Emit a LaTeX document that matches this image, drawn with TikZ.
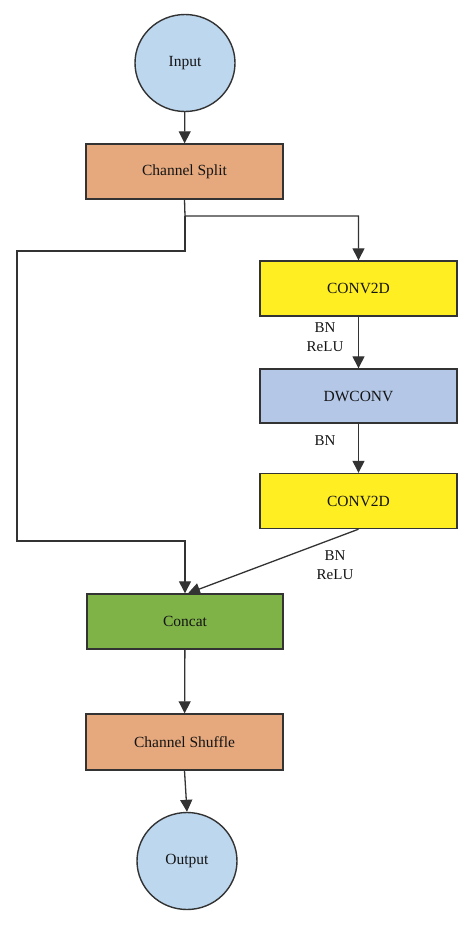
\documentclass[tikz,border=0pt]{standalone}
\usepackage{fontspec}
\setmainfont{Liberation Serif}
\usetikzlibrary{arrows.meta,shapes.geometric}
\definecolor{cblue}{HTML}{BDD7EE}
\definecolor{corange}{HTML}{E6A97E}
\definecolor{cyellow}{HTML}{FFEE22}
\definecolor{cdw}{HTML}{B4C7E7}
\definecolor{cgreen}{HTML}{7FB347}
\definecolor{cline}{HTML}{333333}
\tikzset{
  blk/.style={draw=cline,line width=1.4pt,minimum width=197pt,minimum height=55pt,inner sep=0pt,font=\fontsize{15.5}{17}\selectfont,text=black!92},
  circ/.style={draw=cline,line width=1.4pt,ellipse,minimum width=100pt,minimum height=97pt,fill=cblue,inner sep=0pt,font=\fontsize{15.5}{17}\selectfont,text=black!92},
  arr/.style={draw=cline,line width=1.3pt,-{Triangle[width=12pt,length=12pt]}},
  lab/.style={font=\fontsize{15}{19}\selectfont,align=center,text=black!92,inner sep=0pt}
}
\begin{document}
\begin{tikzpicture}[x=1pt,y=-1pt]
\useasboundingbox (0,0) rectangle (474,926);
\node[circ] (in) at (185,63) {Input};
\node[blk,fill=corange] (split) at (184.5,171.5) {Channel Split};
\node[blk,fill=cyellow] (c1) at (358.5,288.5) {CONV2D};
\node[blk,fill=cdw,minimum height=54pt] (dw) at (358.5,396) {DWCONV};
\node[blk,fill=cyellow] (c2) at (358.5,501) {CONV2D};
\node[blk,fill=cgreen,minimum width=196pt] (cat) at (185,621.5) {Concat};
\node[blk,fill=corange,minimum height=56pt] (sh) at (184.5,742) {Channel Shuffle};
\node[circ] (out) at (187,861) {Output};
\coordinate (s1) at (185,216);
\coordinate (b1) at (185,251);
\coordinate (b2) at (17,251);
\coordinate (b3) at (17,541);
\coordinate (b4) at (185,541);
\draw[arr] (in) -- (split);
\draw[arr] (split.south) -- (s1) -| (c1.north);
\draw[arr] (s1) -- (b1) -- (b2) -- (b3) -- (b4) -- (cat.north);
\draw[arr] (c1) -- (dw);
\draw[arr] (dw) -- (c2);
\draw[arr] (c2.south) -- ([xshift=3pt]cat.north);
\draw[arr] (cat) -- (sh);
\draw[arr] (sh.south) -- (out.north);
\node[lab] (l1) at (325,337.5) {BN\\ReLU};
\node[lab] (l2) at (325,441) {BN};
\node[lab] (l3) at (335,565.5) {BN\\ReLU};
\end{tikzpicture}
\end{document}
